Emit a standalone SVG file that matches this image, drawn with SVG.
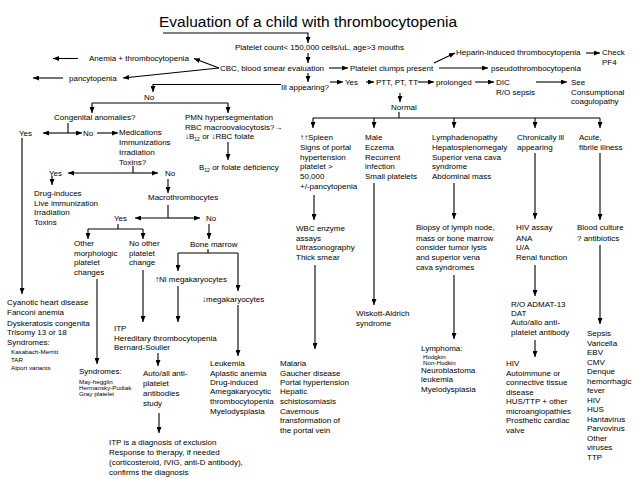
<svg xmlns="http://www.w3.org/2000/svg" width="638" height="479" viewBox="0 0 638 479">
<style>
text{font-family:"Liberation Sans",Arial,sans-serif;fill:#000}
.t{font-size:8px}
.s{font-size:6.2px}
.title{font-size:15.5px}
.c path{fill:none;stroke:#000;stroke-width:1.1}
.c path.a{marker-end:url(#ah)}
</style>
<defs>
<marker id="ah" viewBox="0 0 6 5" refX="6" refY="2.5" markerWidth="6" markerHeight="5" markerUnits="userSpaceOnUse" orient="auto"><path d="M0,0 L6,2.5 L0,5 z" fill="#000"/></marker>
</defs>
<rect width="638" height="479" fill="#fff"/>

<g id="title"><text class="title" x="159" y="27">Evaluation of a child with thrombocytopenia</text></g>

<g class="c" id="connectors">
<path class="a" d="M163,33 H308 V43"/>
<path class="a" d="M308,53 V63"/>
<path class="a" d="M308,73 V82"/>
<path class="a" d="M219,68 L194,58.5"/>
<path class="a" d="M219,68 L123,78"/>
<path class="a" d="M78,58.5 H53"/>
<path class="a" d="M63,78 H33"/>
<path class="a" d="M329,68 H348"/>
<path class="a" d="M439,68 H488"/>
<path class="a" d="M434,63 L455,53"/>
<path class="a" d="M586,53 H600"/>
<path class="a" d="M330,82 H343"/>
<path class="a" d="M366,82 H374"/>
<path class="a" d="M418,82 H434"/>
<path class="a" d="M475,82 H494"/>
<path class="a" d="M536,82 H567"/>
<path class="a" d="M400,93 V102"/>
<path d="M399,112 V118 M313,118 H600"/>
<path class="a" d="M313,118 V128"/>
<path class="a" d="M374,118 V128"/>
<path class="a" d="M454,118 V128"/>
<path class="a" d="M535,118 V128"/>
<path class="a" d="M600,118 V128"/>
<path class="a" d="M281,84.5 H153 V92"/>
<path d="M92,103 H228"/>
<path class="a" d="M92,103 V113"/>
<path class="a" d="M228,103 V113"/>
<path d="M68,123 V133"/>
<path class="a" d="M68,133 H43"/>
<path class="a" d="M68,133 H82"/>
<path class="a" d="M97,133 H118"/>
<path class="a" d="M22,138 V294"/>
<path d="M133,166 V173"/>
<path class="a" d="M133,173 H68"/>
<path class="a" d="M133,173 H158"/>
<path class="a" d="M52,176 V185"/>
<path class="a" d="M168,179 V193"/>
<path d="M168,205 V218"/>
<path class="a" d="M168,218 H135"/>
<path class="a" d="M168,218 H200"/>
<path d="M118,224 V229 M88,229 H143"/>
<path class="a" d="M88,229 V239"/>
<path class="a" d="M143,229 V239"/>
<path class="a" d="M209,224 V239"/>
<path d="M208,249 V253 M178,253 H238"/>
<path class="a" d="M178,253 V271"/>
<path class="a" d="M238,253 V291"/>
<path class="a" d="M143,270 V322"/>
<path class="a" d="M178,286 V322"/>
<path class="a" d="M238,305 V356"/>
<path class="a" d="M97,279 V364"/>
<path class="a" d="M158,353 V366"/>
<path class="a" d="M159,413 V433"/>
<path class="a" d="M228,142 V160"/>
<path class="a" d="M314,195 V220"/>
<path class="a" d="M315,265 V349"/>
<path class="a" d="M374,183 V305"/>
<path class="a" d="M454,183 V219"/>
<path class="a" d="M454,275 V339"/>
<path class="a" d="M535,153 V219"/>
<path class="a" d="M535,265 V296"/>
<path class="a" d="M535,340 V357"/>
<path class="a" d="M600,153 V220"/>
<path class="a" d="M600,245 V324"/>
</g>

<g id="platelet"><text class="t" x="235" y="50">Platelet count&lt; 150,000 cells/uL, age&gt;3 mouths</text></g>
<g id="cbc"><text class="t" x="220" y="70.5">CBC, blood smear evaluation</text></g>
<g id="anemia"><text class="t" x="89" y="61">Anemia + thrombocytopenia</text></g>
<g id="pancyto"><text class="t" x="69" y="81">pancytopenia</text></g>
<g id="clumps"><text class="t" x="350" y="70.5">Platelet clumps present</text></g>
<g id="pseudo"><text class="t" x="491" y="70.5">pseudothrombocytopenia</text></g>
<g id="heparin"><text class="t" x="456" y="55">Heparin-induced thrombocytopenia</text></g>
<g id="check"><text class="t" x="602" y="54.5">Check</text><text class="t" x="602" y="64.5">PF4</text></g>
<g id="ill"><text class="t" x="281" y="90">Ill appearing?</text></g>
<g id="yes1"><text class="t" x="345" y="85">Yes</text></g>
<g id="ptt"><text class="t" x="376" y="85">PTT, PT, TT</text></g>
<g id="prolonged"><text class="t" x="436" y="85">prolonged</text></g>
<g id="dic"><text class="t" x="496" y="85">DIC</text><text class="t" x="496" y="94.5">R/O sepsis</text></g>
<g id="see"><text class="t" x="571" y="85">See</text><text class="t" x="571" y="94.5">Consumptional</text><text class="t" x="571" y="104">coagulopathy</text></g>
<g id="normal"><text class="t" x="391" y="110">Normal</text></g>
<g id="no1"><text class="t" x="144" y="100">No</text></g>

<g id="spleen"><text class="t" x="300" y="140">↑↑Spleen</text><text class="t" x="300" y="149.75">Signs of portal</text><text class="t" x="300" y="159.5">hypertension</text><text class="t" x="300" y="169.25">platelet &gt;</text><text class="t" x="300" y="179">50,000</text><text class="t" x="300" y="188.75">+/-pancytopenia</text></g>
<g id="male"><text class="t" x="365" y="140">Male</text><text class="t" x="365" y="149.75">Eczema</text><text class="t" x="365" y="159.5">Recurrent</text><text class="t" x="365" y="169.25">infection</text><text class="t" x="365" y="179">Small platelets</text></g>
<g id="lymph"><text class="t" x="432" y="140">Lymphadenopathy</text><text class="t" x="432" y="149.75">Hepatosplenomegaly</text><text class="t" x="432" y="159.5">Superior vena cava</text><text class="t" x="432" y="169.25">syndrome</text><text class="t" x="432" y="179">Abdominal mass</text></g>
<g id="chronic"><text class="t" x="517" y="140">Chronically ill</text><text class="t" x="517" y="149.75">appearing</text></g>
<g id="acute"><text class="t" x="579" y="140">Acute,</text><text class="t" x="579" y="149.75">fibrile illness</text></g>

<g id="wbc"><text class="t" x="296" y="231">WBC enzyme</text><text class="t" x="296" y="240.5">assays</text><text class="t" x="296" y="250">Ultrasonography</text><text class="t" x="296" y="259.5">Thick smear</text></g>
<g id="malaria"><text class="t" x="280" y="366">Malaria</text><text class="t" x="280" y="375.5">Gaucher disease</text><text class="t" x="280" y="384.5">Portal hypertension</text><text class="t" x="280" y="393.5">Hepatic</text><text class="t" x="280" y="403.5">schistosomiasis</text><text class="t" x="280" y="413.5">Cavernous</text><text class="t" x="280" y="423">transformation of</text><text class="t" x="280" y="432.5">the portal vein</text></g>
<g id="wiskott"><text class="t" x="356" y="316">Wiskott-Aldrich</text><text class="t" x="356" y="325.5">syndrome</text></g>
<g id="biopsy"><text class="t" x="416" y="230">Biopsy of lymph node,</text><text class="t" x="416" y="240.5">mass or bone marrow</text><text class="t" x="416" y="250">consider tumor lysis</text><text class="t" x="416" y="259.5">and superior vena</text><text class="t" x="416" y="269.5">cava syndromes</text></g>
<g id="lymphoma"><text class="t" x="421" y="351">Lymphoma:</text><text class="s" x="423" y="358.7">Hodgkin</text><text class="s" x="423" y="364.5">Non-Hodkin</text><text class="t" x="421" y="372.7">Neuroblastoma</text><text class="t" x="421" y="382">leukemia</text><text class="t" x="421" y="391.7">Myelodysplasia</text></g>
<g id="hivassay"><text class="t" x="516" y="230">HIV assay</text><text class="t" x="516" y="240.5">ANA</text><text class="t" x="516" y="250">U/A</text><text class="t" x="516" y="259.5">Renal function</text></g>
<g id="admat"><text class="t" x="511" y="306.5">R/O ADMAT-13</text><text class="t" x="511" y="315.5">DAT</text><text class="t" x="511" y="325">Auto/allo anti-</text><text class="t" x="511" y="334.5">platelet antibody</text></g>
<g id="hiv"><text class="t" x="506" y="365.5">HIV</text><text class="t" x="506" y="375.5">Autoimmune or</text><text class="t" x="506" y="384.5">connective tissue</text><text class="t" x="506" y="394.5">disease</text><text class="t" x="506" y="403.5">HUS/TTP + other</text><text class="t" x="506" y="413.5">microangiopathies</text><text class="t" x="506" y="422.7">Prosthetic cardiac</text><text class="t" x="506" y="433.4">valve</text></g>
<g id="blood"><text class="t" x="577" y="230">Blood culture</text><text class="t" x="577" y="240.5">? antibiotics</text></g>
<g id="sepsis"><text class="t" x="587" y="336">Sepsis</text><text class="t" x="587" y="345.5">Varicella</text><text class="t" x="587" y="355">EBV</text><text class="t" x="587" y="364.5">CMV</text><text class="t" x="587" y="374">Denque</text><text class="t" x="587" y="383.5">hemorrhagic</text><text class="t" x="587" y="393">fever</text><text class="t" x="587" y="402.5">HIV</text><text class="t" x="587" y="412">HUS</text><text class="t" x="587" y="421.5">Hantavirus</text><text class="t" x="587" y="431">Parvovirus</text><text class="t" x="587" y="440.5">Other</text><text class="t" x="587" y="450">viruses</text><text class="t" x="587" y="459.5">TTP</text></g>

<g id="congenital"><text class="t" x="54" y="120">Congenital anomalies?</text></g>
<g id="pmn"><text class="t" x="185" y="120">PMN hypersegmentation</text><text class="t" x="185" y="129.5">RBC macroovalocytosis?→</text><text class="t" x="185" y="139">↓B<tspan font-size="5" dy="1.5">12</tspan><tspan dy="-1.5"> or ↓RBC folate</tspan></text></g>
<g id="b12"><text class="t" x="199" y="170">B<tspan font-size="5" dy="1.5">12</tspan><tspan dy="-1.5"> or folate deficiency</tspan></text></g>
<g id="yes2"><text class="t" x="19" y="136">Yes</text></g>
<g id="no2"><text class="t" x="83" y="136">No</text></g>
<g id="meds"><text class="t" x="119" y="135">Medications</text><text class="t" x="119" y="145">Immunizations</text><text class="t" x="119" y="155">Irradiation</text><text class="t" x="119" y="165">Toxins?</text></g>
<g id="yes3"><text class="t" x="49" y="176">Yes</text></g>
<g id="no3"><text class="t" x="165" y="176">No</text></g>
<g id="drug"><text class="t" x="34" y="196">Drug-induces</text><text class="t" x="34" y="205.5">Live immunization</text><text class="t" x="34" y="215">Irradiation</text><text class="t" x="34" y="224.5">Toxins</text></g>
<g id="macro"><text class="t" x="148" y="200">Macrothrombocytes</text></g>
<g id="yes4"><text class="t" x="114" y="221">Yes</text></g>
<g id="no4"><text class="t" x="206" y="221">No</text></g>
<g id="other"><text class="t" x="74" y="246">Other</text><text class="t" x="74" y="255.5">morphologic</text><text class="t" x="74" y="265">platelet</text><text class="t" x="74" y="274.5">changes</text></g>
<g id="noother"><text class="t" x="129" y="246">No other</text><text class="t" x="129" y="255.5">platelet</text><text class="t" x="129" y="265">change</text></g>
<g id="bone"><text class="t" x="190" y="247">Bone marrow</text></g>
<g id="nlmega"><text class="t" x="155" y="282">↑Nl megakaryocytes</text></g>
<g id="lowmega"><text class="t" x="202" y="302">↓megakaryocytes</text></g>
<g id="itp"><text class="t" x="114" y="331">ITP</text><text class="t" x="114" y="340.5">Hereditary thrombocytopenia</text><text class="t" x="114" y="350">Bernard-Soulier</text></g>
<g id="leukemia"><text class="t" x="210" y="366">Leukemia</text><text class="t" x="210" y="375.5">Aplastic anemia</text><text class="t" x="210" y="384.5">Drug-induced</text><text class="t" x="210" y="393.5">Amegakaryocytic</text><text class="t" x="210" y="403.5">thrombocytopenia</text><text class="t" x="210" y="413.5">Myelodysplasia</text></g>
<g id="cyanotic"><text class="t" x="7" y="305">Cyanotic heart disease</text><text class="t" x="7" y="315">Fanconi anemia</text><text class="t" x="7" y="325.5">Dyskeratosis congenita</text><text class="t" x="7" y="335">Trisomy 13 or 18</text><text class="t" x="7" y="345">Syndromes:</text><text class="s" x="11" y="354">Kasabach-Merritt</text><text class="s" x="11" y="362">TAR</text><text class="s" x="11" y="370">Alport variants</text></g>
<g id="syndromes"><text class="t" x="79" y="374">Syndromes:</text><text class="s" x="79" y="384">May-hegglin</text><text class="s" x="79" y="390.2">Hermansky-Pudiak</text><text class="s" x="79" y="396.4">Gray platelet</text></g>
<g id="autoall"><text class="t" x="143" y="376">Auto/all anti-</text><text class="t" x="143" y="386">platelet</text><text class="t" x="143" y="395.5">antibodies</text><text class="t" x="143" y="405.5">study</text></g>
<g id="itpdx"><text class="t" x="109" y="445">ITP is a diagnosis of exclusion</text><text class="t" x="109" y="455">Response to therapy, if needed</text><text class="t" x="109" y="464.5">(corticosteroid, IVIG, anti-D antibody),</text><text class="t" x="109" y="474.5">confirms the diagnosis</text></g>
</svg>
